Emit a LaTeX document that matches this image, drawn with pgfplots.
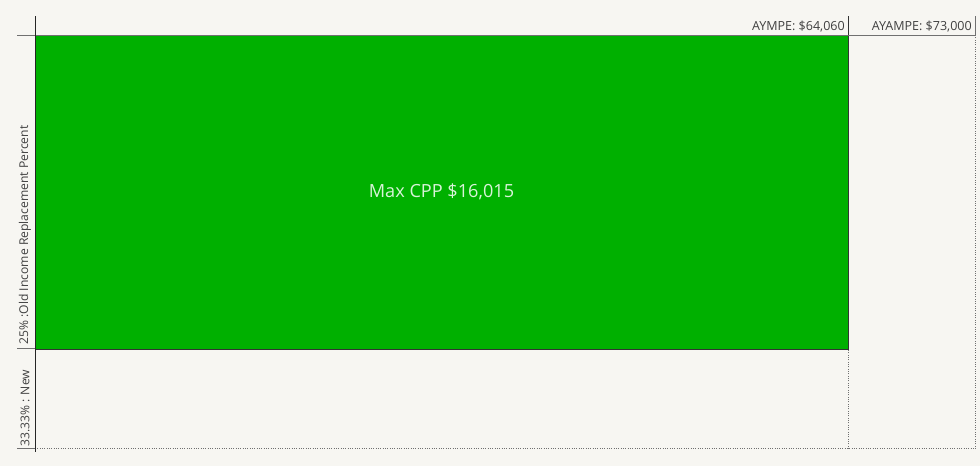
\documentclass[border=0pt]{standalone}
\usepackage{pgfplots}
\pgfplotsset{compat=1.18}
\usepackage{fontspec}
\setmainfont{Open Sans}
\definecolor{bg}{HTML}{F7F6F2}
\definecolor{cppgreen}{HTML}{00B000}
\definecolor{lbl}{HTML}{404040}
\definecolor{gridg}{HTML}{707070}
\begin{document}
\begin{tikzpicture}[x=1pt,y=1pt]
\fill[bg] (0,0) rectangle (735,349.5);
\useasboundingbox (0,0) rectangle (735,349.5);
\begin{axis}[
  at={(26.25pt,12.75pt)}, anchor=south west,
  scale only axis, width=705pt, height=310.5pt,
  xmin=6830, xmax=73000, ymin=0, ymax=414,
  axis lines=none, ticks=none, clip=false,
]
% green bar: Max CPP
\addplot[fill=cppgreen, draw=black!80, line width=0.6pt] coordinates {(6830,100) (64060,100) (64060,414) (6830,414) (6830,100)} -- cycle;
% dotted boundaries
\addplot[gridg, densely dotted, line width=0.75pt] coordinates {(6830,0) (73000,0)};
\addplot[gridg, densely dotted, line width=0.75pt] coordinates {(64060,0) (64060,100)};
\addplot[gridg, densely dotted, line width=0.75pt] coordinates {(73000,0) (73000,414)};
% top solid lines
\addplot[gridg, line width=0.6pt] coordinates {(5563,414) (73000,414)};
\addplot[black!80, line width=0.6pt] coordinates {(64060,414) (64060,433)};
\addplot[gridg, line width=0.6pt] coordinates {(73000,414) (73000,433)};
% left axis and ticks
\addplot[gridg, line width=0.75pt] coordinates {(5563,100) (6830,100)};
\addplot[gridg, line width=0.75pt] coordinates {(5563,0) (6830,0)};
\addplot[black!85, line width=0.6pt] coordinates {(6830,-3) (6830,433)};
% labels
\node[text=white!85!cppgreen, font=\fontsize{13.6}{15}\selectfont] at (axis cs:35445,257) {Max CPP \$16,015};
\node[text=lbl, font=\fontsize{9.4}{10}\selectfont, anchor=base east, inner sep=0pt] at (axis cs:64060,418) [xshift=-2.2pt] {AYMPE: \$64,060};
\node[text=lbl, font=\fontsize{9.4}{10}\selectfont, anchor=base east, inner sep=0pt] at (axis cs:73000,418) [xshift=-2.2pt] {AYAMPE: \$73,000};
\node[text=lbl, font=\fontsize{9.1}{10}\selectfont, anchor=west, inner sep=0pt, rotate=90] at (rel axis cs:-0.0106,0.252) {25\% :Old Income Replacement Percent};
\node[text=lbl, font=\fontsize{9.1}{10}\selectfont, anchor=west, inner sep=0pt, rotate=90] at (rel axis cs:-0.0106,0.005) {33.33\% : New};
\end{axis}
\end{tikzpicture}
\end{document}
